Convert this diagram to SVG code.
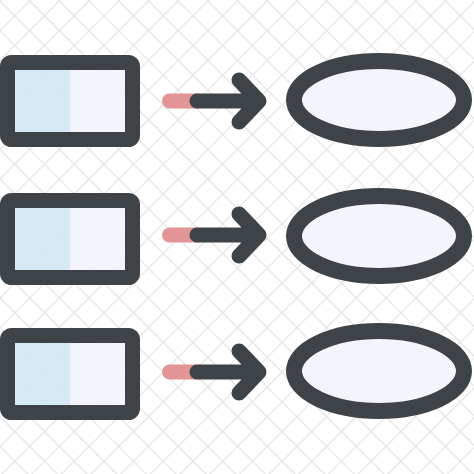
<svg xmlns="http://www.w3.org/2000/svg" width="474" height="474" viewBox="0 0 474 474">
  <defs>
    <pattern id="lattice" width="21" height="21" patternUnits="userSpaceOnUse" patternTransform="rotate(45)">
      <path d="M0 0H21M0 0V21" stroke="#e4e4e4" stroke-width="2.4" fill="none"/>
    </pattern>
    <style>
      .frame{fill:none;stroke:#3e4347;stroke-width:15;stroke-linejoin:round}
      .blue{fill:#cfe8f5;opacity:0.9}
      .light{fill:#f2f4fa;opacity:0.9}
      .oval{fill:#f2f4fa;fill-opacity:0.9;stroke:#3e4347;stroke-width:16}
      .tail{stroke:#e39494;stroke-width:15;stroke-linecap:round;fill:none}
      .shaft{stroke:#3e4347;stroke-width:15;stroke-linecap:round;stroke-linejoin:round;fill:none}
    </style>
  </defs>
  <rect width="474" height="474" fill="#ffffff"/>
  <rect width="474" height="474" fill="url(#lattice)"/>

  <g id="box1">
    <rect class="blue" x="15" y="70" width="55" height="62"/>
    <rect class="light" x="70" y="70" width="55" height="62"/>
    <rect class="frame" x="7.5" y="62.5" width="125" height="77" rx="4"/>
  </g>
  <g id="box2">
    <rect class="blue" x="15" y="208" width="55" height="62"/>
    <rect class="light" x="70" y="208" width="55" height="62"/>
    <rect class="frame" x="7.5" y="200.5" width="125" height="77" rx="4"/>
  </g>
  <g id="box3">
    <rect class="blue" x="15" y="343" width="55" height="62"/>
    <rect class="light" x="70" y="343" width="55" height="62"/>
    <rect class="frame" x="7.5" y="335.5" width="125" height="77" rx="4"/>
  </g>

  <g id="oval1"><ellipse class="oval" cx="379" cy="100" rx="85" ry="39"/></g>
  <g id="oval2"><ellipse class="oval" cx="379" cy="236" rx="85" ry="40"/></g>
  <g id="oval3"><ellipse class="oval" cx="379" cy="371" rx="85" ry="40"/></g>

  <g id="connectors">
    <g>
      <line class="tail" x1="169.5" y1="101" x2="197" y2="101"/>
      <path class="shaft" d="M197 101H258M239 80L259 101L239 122"/>
    </g>
    <g>
      <line class="tail" x1="169.5" y1="235" x2="197" y2="235"/>
      <path class="shaft" d="M197 235H258M239 214L259 235L239 256"/>
    </g>
    <g>
      <line class="tail" x1="169.5" y1="372" x2="197" y2="372"/>
      <path class="shaft" d="M197 372H258M239 351L259 372L239 393"/>
    </g>
  </g>
</svg>
